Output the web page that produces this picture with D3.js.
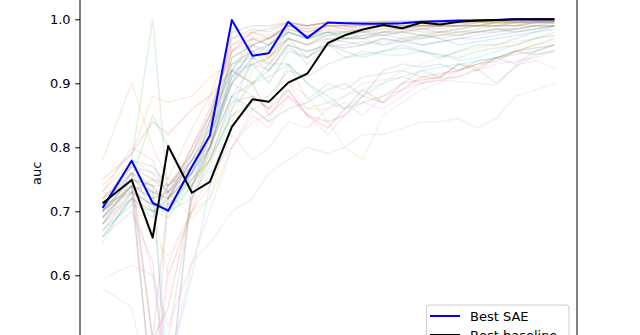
<!DOCTYPE html>
<html>
<head>
<meta charset="utf-8">
<script src="https://cdn.jsdelivr.net/npm/d3@7"></script>
<style>
html,body{margin:0;padding:0;background:#fff;}
svg{display:block;font-family:"DejaVu Sans",sans-serif;}
</style>
</head>
<body>
<svg id="chart" width="640" height="335"></svg>
<script>
// x positions of the 24 evaluation points (arbitrary units)
const xValues = [0, 1.48, 2.55, 3.34, 4.55, 5.46, 6.58, 7.63, 8.46, 9.45, 10.42, 11.47, 12.33, 13.25, 14.28, 15.26, 16.23, 17.17, 18.13, 19.07, 20.05, 21.03, 22.03, 23];

const bestSAE = [0.705, 0.779, 0.713, 0.701, 0.770, 0.818, 0.999, 0.943, 0.947, 0.996, 0.971, 0.995, 0.994, 0.993, 0.993, 0.994, 0.996, 0.997, 0.998, 0.998, 0.999, 1.0, 1.0, 1.0];
const bestBaseline = [0.7125, 0.749, 0.659, 0.802, 0.729, 0.746, 0.832, 0.875, 0.871, 0.901, 0.915, 0.963, 0.975, 0.984, 0.991, 0.986, 0.995, 0.992, 0.996, 0.998, 0.999, 1.0, 1.0, 1.0];

// faint individual runs
const runs = [
 [0.68,0.74,0.73,0.72,0.76,0.80,0.92,0.93,0.90,0.95,0.94,0.96,0.95,0.94,0.95,0.96,0.95,0.94,0.95,0.96,0.96,0.97,0.98,0.99],
 [0.78,0.90,0.80,0.75,0.74,0.80,0.95,0.96,0.94,0.98,0.97,0.99,0.99,0.98,0.99,0.99,0.985,0.99,0.99,0.99,0.995,0.99,0.995,0.995],
 [0.70,0.78,1.00,0.72,0.76,0.84,0.92,0.90,0.92,0.96,0.93,0.96,0.97,0.97,0.98,0.98,0.975,0.98,0.98,0.985,0.99,0.99,0.99,0.995],
 [0.72,0.76,0.70,0.72,0.80,0.85,0.96,0.98,0.97,0.99,0.99,0.995,0.99,0.99,0.995,0.99,0.99,0.995,0.995,0.995,0.997,0.997,0.998,0.998],
 [0.66,0.70,0.62,0.40,0.74,0.82,0.90,0.94,0.92,0.96,0.95,0.96,0.955,0.96,0.97,0.965,0.96,0.965,0.97,0.975,0.98,0.985,0.99,0.99],
 [0.71,0.73,0.75,0.74,0.77,0.83,0.98,0.99,0.99,0.995,0.99,0.995,0.995,0.995,0.997,0.997,0.997,0.998,0.998,0.998,0.999,0.999,0.999,0.999],
 [0.594,0.616,0.60,0.52,0.62,0.65,0.70,0.72,0.76,0.78,0.80,0.79,0.80,0.82,0.82,0.83,0.84,0.84,0.845,0.83,0.845,0.88,0.889,0.90],
 [0.69,0.74,0.40,0.72,0.76,0.80,0.90,0.88,0.86,0.93,0.874,0.90,0.89,0.91,0.915,0.92,0.91,0.908,0.91,0.923,0.90,0.926,0.944,0.952],
 [0.67,0.72,0.70,0.72,0.75,0.78,0.85,0.86,0.87,0.90,0.88,0.84,0.80,0.78,0.85,0.87,0.89,0.90,0.92,0.93,0.94,0.95,0.96,0.965],
 [0.65,0.73,0.71,0.70,0.72,0.77,0.86,0.90,0.93,0.96,0.95,0.96,0.94,0.95,0.945,0.944,0.95,0.944,0.936,0.94,0.95,0.96,0.97,0.975],
 [0.71,0.77,0.76,0.73,0.78,0.82,0.94,0.96,0.95,0.98,0.97,0.98,0.97,0.97,0.975,0.97,0.96,0.965,0.97,0.97,0.975,0.98,0.985,0.99],
 [0.74,0.79,0.88,0.87,0.88,0.91,0.93,0.95,0.94,0.97,0.96,0.98,0.97,0.97,0.98,0.975,0.97,0.98,0.975,0.98,0.985,0.98,0.985,0.99],
 [0.68,0.75,0.85,0.80,0.74,0.78,0.88,0.90,0.91,0.93,0.90,0.88,0.86,0.87,0.88,0.90,0.92,0.91,0.93,0.925,0.94,0.95,0.945,0.95],
 [0.70,0.74,0.50,0.55,0.72,0.78,0.87,0.88,0.86,0.89,0.85,0.84,0.85,0.88,0.87,0.89,0.91,0.915,0.92,0.93,0.935,0.95,0.96,0.97],
 [0.73,0.80,0.78,0.72,0.79,0.84,0.92,0.96,0.97,0.99,0.98,0.99,0.985,0.98,0.975,0.98,0.985,0.98,0.985,0.99,0.99,0.99,0.995,0.995],
 [0.69,0.76,0.74,0.71,0.75,0.80,0.91,0.95,0.93,0.97,0.94,0.97,0.97,0.975,0.98,0.985,0.98,0.98,0.985,0.99,0.99,0.99,0.995,0.995],
 [0.58,0.55,0.40,0.60,0.70,0.76,0.80,0.85,0.83,0.88,0.86,0.87,0.88,0.90,0.905,0.91,0.90,0.905,0.903,0.90,0.897,0.928,0.936,0.923],
 [0.72,0.75,0.74,0.40,0.74,0.79,0.92,0.97,0.96,0.99,0.98,0.99,0.99,0.99,0.99,0.995,0.99,0.99,0.995,0.995,0.997,0.997,0.998,0.998],
 [0.70,0.74,0.70,0.60,0.70,0.72,0.80,0.86,0.84,0.90,0.86,0.86,0.88,0.89,0.90,0.92,0.93,0.94,0.95,0.955,0.96,0.965,0.97,0.975],
 [0.70,0.76,0.73,0.45,0.60,0.74,0.86,0.94,0.96,0.98,0.97,0.975,0.98,0.97,0.96,0.97,0.975,0.97,0.975,0.98,0.985,0.98,0.985,0.99],
 [0.66,0.72,0.69,0.74,0.79,0.85,0.93,0.94,0.95,0.97,0.96,0.97,0.965,0.96,0.97,0.965,0.975,0.97,0.96,0.965,0.97,0.975,0.98,0.985],
 [0.73,0.78,0.76,0.75,0.83,0.88,0.97,0.98,0.975,0.99,0.985,0.99,0.99,0.985,0.99,0.99,0.99,0.99,0.995,0.99,0.995,0.995,0.997,0.997],
 [0.69,0.74,0.72,0.73,0.77,0.82,0.94,0.96,0.97,0.985,0.975,0.98,0.98,0.985,0.99,0.99,0.99,0.99,0.99,0.995,0.995,0.995,0.997,0.997],
 [0.75,0.79,0.84,0.82,0.86,0.88,0.92,0.90,0.85,0.88,0.85,0.83,0.86,0.89,0.87,0.90,0.905,0.91,0.93,0.92,0.94,0.945,0.95,0.96],
 [0.67,0.73,0.71,0.70,0.74,0.80,0.88,0.93,0.94,0.97,0.96,0.975,0.97,0.975,0.975,0.98,0.975,0.975,0.98,0.98,0.985,0.985,0.99,0.99],
 [0.70,0.75,0.73,0.72,0.78,0.83,0.95,0.98,0.985,0.995,0.99,0.995,0.995,0.995,0.995,0.996,0.997,0.997,0.998,0.998,0.998,0.999,0.999,0.999],
 [0.68,0.72,0.42,0.62,0.70,0.74,0.82,0.78,0.80,0.84,0.83,0.86,0.87,0.85,0.88,0.89,0.90,0.91,0.92,0.93,0.94,0.95,0.955,0.96],
 [0.70,0.74,0.40,0.50,0.72,0.80,0.90,0.96,0.97,0.99,0.985,0.99,0.99,0.99,0.995,0.99,0.995,0.995,0.995,0.997,0.997,0.998,0.998,0.998],
 [0.71,0.75,0.73,0.73,0.69,0.72,0.84,0.92,0.94,0.97,0.96,0.975,0.98,0.98,0.985,0.985,0.99,0.99,0.99,0.99,0.995,0.995,0.995,0.995],
 [0.66,0.72,0.70,0.69,0.74,0.80,0.91,0.95,0.96,0.98,0.97,0.98,0.975,0.98,0.98,0.98,0.985,0.985,0.99,0.99,0.99,0.995,0.995,0.995],
 [0.70,0.78,0.77,0.74,0.78,0.80,0.88,0.86,0.84,0.86,0.87,0.89,0.90,0.88,0.92,0.93,0.925,0.93,0.92,0.935,0.94,0.93,0.95,0.96],
 [0.70,0.75,0.74,0.74,0.79,0.85,0.96,0.97,0.97,0.99,0.98,0.99,0.985,0.99,0.99,0.985,0.99,0.99,0.99,0.995,0.995,0.995,0.997,0.997],
 [0.67,0.71,0.70,0.70,0.75,0.78,0.85,0.87,0.88,0.92,0.91,0.93,0.94,0.945,0.95,0.955,0.95,0.945,0.94,0.95,0.955,0.96,0.97,0.98],
 [0.72,0.77,0.75,0.73,0.80,0.86,0.95,0.97,0.96,0.985,0.975,0.985,0.98,0.985,0.99,0.985,0.99,0.99,0.99,0.99,0.995,0.995,0.995,0.997],
 [0.69,0.74,0.72,0.73,0.76,0.82,0.91,0.93,0.92,0.955,0.94,0.96,0.96,0.965,0.96,0.965,0.97,0.975,0.975,0.98,0.98,0.985,0.99,0.99],
 [0.71,0.76,0.50,0.72,0.78,0.84,0.97,0.985,0.98,0.995,0.99,0.995,0.995,0.996,0.996,0.997,0.997,0.998,0.998,0.998,0.999,0.999,0.999,0.999],
 [0.70,0.73,0.60,0.45,0.62,0.70,0.80,0.84,0.85,0.89,0.85,0.82,0.85,0.87,0.86,0.88,0.90,0.905,0.91,0.92,0.93,0.935,0.94,0.95],
 [0.68,0.73,0.71,0.71,0.76,0.81,0.93,0.95,0.96,0.98,0.97,0.98,0.975,0.98,0.985,0.985,0.985,0.99,0.99,0.99,0.99,0.995,0.995,0.995],
 [0.69,0.72,0.66,0.63,0.70,0.80,0.90,0.93,0.94,0.96,0.95,0.96,0.955,0.96,0.965,0.97,0.97,0.975,0.98,0.98,0.985,0.985,0.99,0.99],
 [0.70,0.75,0.74,0.70,0.76,0.82,0.90,0.94,0.93,0.93,0.90,0.87,0.86,0.88,0.90,0.91,0.92,0.925,0.93,0.935,0.94,0.95,0.955,0.96]
];

const yTicks = [0.5, 0.6, 0.7, 0.8, 0.9, 1.0];
const yLabel = "auc";
const legendLabels = ["Best SAE", "Best baseline"];
const legendColors = ["#0000ff", "#000000"];
const palette = ["#1f77b4","#ff7f0e","#2ca02c","#d62728","#9467bd","#8c564b","#e377c2","#7f7f7f","#bcbd22","#17becf"];

const svg = d3.select("#chart");
const axLeft = 80, axRight = 577, axTop = -40, axBottom = 400;

const span = d3.max(xValues) - d3.min(xValues);
const x = d3.scaleLinear()
  .domain([d3.min(xValues) - 0.05 * span, d3.max(xValues) + 0.05 * span])
  .range([axLeft, axRight]);
const y = d3.scaleLinear().domain([0.5, 1.0]).range([339.3, 19.3]);

svg.append("defs").append("clipPath").attr("id", "clip")
  .append("rect").attr("x", axLeft).attr("y", axTop).attr("width", axRight - axLeft).attr("height", axBottom - axTop);

const line = d3.line().x((d, i) => x(xValues[i])).y(d => y(d));
const g = svg.append("g").attr("clip-path", "url(#clip)");

g.selectAll("path.run").data(runs).enter().append("path")
  .attr("class", "run")
  .attr("d", line)
  .attr("fill", "none")
  .attr("stroke", (d, i) => palette[i % 10])
  .attr("stroke-opacity", 0.14)
  .attr("stroke-width", 1.5)
  .attr("stroke-linejoin", "round");

[bestSAE, bestBaseline].forEach((s, i) => {
  g.append("path").attr("d", line(s)).attr("fill", "none")
    .attr("stroke", legendColors[i]).attr("stroke-width", 2)
    .attr("stroke-linejoin", "round");
});

// spines
svg.append("line").attr("x1", axLeft).attr("x2", axLeft).attr("y1", axTop).attr("y2", axBottom)
  .attr("stroke", "#000").attr("stroke-width", 1);
svg.append("line").attr("x1", axRight).attr("x2", axRight).attr("y1", axTop).attr("y2", axBottom)
  .attr("stroke", "#000").attr("stroke-width", 1);

// y axis
const yAxis = d3.axisLeft(y).tickValues(yTicks).tickFormat(d3.format(".1f")).tickSize(4.9).tickPadding(4.5);
const ya = svg.append("g").attr("transform", `translate(${axLeft},0)`).call(yAxis);
ya.select(".domain").remove();
ya.selectAll("text").attr("font-size", 13).attr("fill", "#000").attr("font-family", "DejaVu Sans");
ya.selectAll("line").attr("stroke", "#000").attr("stroke-width", 1);

svg.append("text").attr("transform", "translate(40.5,173.3) rotate(-90)")
  .attr("text-anchor", "middle").attr("font-size", 13).attr("fill", "#000").text(yLabel);

// legend
const lg = svg.append("g");
lg.append("rect").attr("x", 426.5).attr("y", 305).attr("width", 142.5).attr("height", 50)
  .attr("rx", 3).attr("fill", "#fff").attr("fill-opacity", 0.8).attr("stroke", "#cccccc").attr("stroke-width", 1);
legendLabels.forEach((lab, i) => {
  const yy = 316 + i * 19;
  lg.append("line").attr("x1", 430).attr("x2", 460).attr("y1", yy).attr("y2", yy)
    .attr("stroke", legendColors[i]).attr("stroke-width", 2);
  lg.append("text").attr("x", 470).attr("y", yy + 5).attr("font-size", 13).attr("fill", "#000").text(lab);
});
</script>
</body>
</html>
